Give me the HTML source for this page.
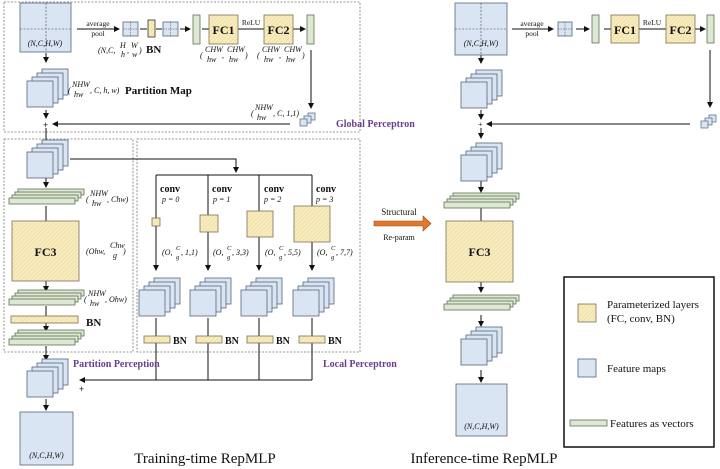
<!DOCTYPE html>
<html><head><meta charset="utf-8"><style>
html,body{margin:0;padding:0;background:#fff}
svg{display:block}
text{font-family:"Liberation Serif",serif;fill:#111}
.i{font-style:italic;font-size:8px}
.b{font-weight:bold}
.p{fill:#6a3d8f;font-weight:bold;font-size:10px}
</style></head><body>
<svg width="720" height="469" viewBox="0 0 720 469" xmlns="http://www.w3.org/2000/svg">
<defs>
<pattern id="h" width="3" height="3" patternUnits="userSpaceOnUse" patternTransform="rotate(45)">
<rect width="3" height="3" fill="#f8ebbd"/><line x1="0" y1="0" x2="0" y2="3" stroke="#e9d79a" stroke-width="1"/>
</pattern>
<marker id="a" markerWidth="6" markerHeight="6" refX="5" refY="3" orient="auto" markerUnits="userSpaceOnUse"><path d="M0,0 L6,3 L0,6 z" fill="#111"/></marker>
<g id="st">
<rect x="15" y="-12" width="26" height="26" fill="#d9e5f3" stroke="#55657a" stroke-width="0.8"/>
<rect x="10" y="-8" width="26" height="26" fill="#d9e5f3" stroke="#55657a" stroke-width="0.8"/>
<rect x="5" y="-4" width="26" height="26" fill="#d9e5f3" stroke="#55657a" stroke-width="0.8"/>
<rect x="0" y="0" width="26" height="26" fill="#d9e5f3" stroke="#55657a" stroke-width="0.8"/>
</g>
<g id="gb">
<rect x="9" y="-9" width="66" height="6" fill="#dde9d3" stroke="#5f7058" stroke-width="0.8"/>
<rect x="6" y="-6" width="66" height="6" fill="#dde9d3" stroke="#5f7058" stroke-width="0.8"/>
<rect x="3" y="-3" width="66" height="6" fill="#dde9d3" stroke="#5f7058" stroke-width="0.8"/>
<rect x="0" y="0" width="66" height="6" fill="#dde9d3" stroke="#5f7058" stroke-width="0.8"/>
</g>
<g id="cb">
<rect x="8" y="-6" width="7" height="7" fill="#d9e5f3" stroke="#55657a" stroke-width="0.7"/>
<rect x="4" y="-3" width="7" height="7" fill="#d9e5f3" stroke="#55657a" stroke-width="0.7"/>
<rect x="0" y="0" width="7" height="7" fill="#d9e5f3" stroke="#55657a" stroke-width="0.7"/>
</g>
</defs>
<g fill="none" stroke="#777" stroke-width="0.8" stroke-dasharray="2,1.5">
<rect x="4" y="2" width="356" height="130"/>
<rect x="4" y="139" width="129" height="213"/>
<rect x="137" y="139" width="223" height="213"/>
</g>
<g stroke="#111" stroke-width="1" fill="none">
<!-- training top -->
<line x1="77" y1="29" x2="119" y2="29" marker-end="url(#a)"/>
<line x1="140" y1="29" x2="147" y2="29"/>
<line x1="156" y1="29" x2="162" y2="29"/>
<line x1="180" y1="29" x2="190" y2="29" marker-end="url(#a)"/>
<line x1="202" y1="29" x2="209" y2="29"/>
<line x1="238" y1="29" x2="264" y2="29"/>
<line x1="293" y1="29" x2="305" y2="29" marker-end="url(#a)"/>
<line x1="311" y1="50" x2="311" y2="108" marker-end="url(#a)"/>
<line x1="290" y1="124" x2="53" y2="124" marker-end="url(#a)"/>
<line x1="46" y1="53" x2="46" y2="62" marker-end="url(#a)"/>
<line x1="46" y1="110" x2="46" y2="118" marker-end="url(#a)"/>
<line x1="46" y1="128" x2="46" y2="142"/>
<!-- partition -->
<line x1="46" y1="178" x2="46" y2="187" marker-end="url(#a)"/>
<line x1="46" y1="206" x2="46" y2="221"/>
<line x1="46" y1="281" x2="46" y2="291" marker-end="url(#a)"/>
<line x1="46" y1="306" x2="46" y2="316"/>
<line x1="46" y1="323" x2="46" y2="331" marker-end="url(#a)"/>
<line x1="46" y1="346" x2="46" y2="360" marker-end="url(#a)"/>
<line x1="46" y1="399" x2="46" y2="410" marker-end="url(#a)"/>
<!-- local -->
<polyline points="70,159 236,159 236,172" marker-end="url(#a)"/>
<line x1="156" y1="175" x2="312" y2="175"/>
<line x1="156" y1="175" x2="156" y2="270" marker-end="url(#a)"/>
<line x1="208" y1="175" x2="208" y2="270" marker-end="url(#a)"/>
<line x1="259" y1="175" x2="259" y2="270" marker-end="url(#a)"/>
<line x1="312" y1="175" x2="312" y2="270" marker-end="url(#a)"/>
<line x1="156" y1="318" x2="156" y2="380"/>
<line x1="208" y1="318" x2="208" y2="380"/>
<line x1="259" y1="318" x2="259" y2="380"/>
<line x1="312" y1="318" x2="312" y2="380"/>
<line x1="312" y1="380" x2="80" y2="380" marker-end="url(#a)"/>
<!-- inference -->
<line x1="512" y1="29" x2="553" y2="29" marker-end="url(#a)"/>
<line x1="576" y1="29" x2="589" y2="29" marker-end="url(#a)"/>
<line x1="604" y1="29" x2="611" y2="29"/>
<line x1="639" y1="29" x2="666" y2="29"/>
<line x1="695" y1="29" x2="705" y2="29" marker-end="url(#a)"/>
<line x1="710" y1="50" x2="710" y2="107" marker-end="url(#a)"/>
<line x1="690" y1="124" x2="487" y2="124" marker-end="url(#a)"/>
<line x1="481" y1="53" x2="481" y2="63" marker-end="url(#a)"/>
<line x1="481" y1="110" x2="481" y2="119" marker-end="url(#a)"/>
<line x1="481" y1="128" x2="481" y2="138" marker-end="url(#a)"/>
<line x1="481" y1="181" x2="481" y2="192" marker-end="url(#a)"/>
<line x1="481" y1="208" x2="481" y2="221"/>
<line x1="481" y1="282" x2="481" y2="292" marker-end="url(#a)"/>
<line x1="481" y1="315" x2="481" y2="326" marker-end="url(#a)"/>
<line x1="481" y1="370" x2="481" y2="382" marker-end="url(#a)"/>
</g>
<!-- training input -->
<rect x="20" y="3" width="51" height="49" fill="#d9e5f3" stroke="#55657a" stroke-width="0.8"/>
<line x1="46" y1="3" x2="46" y2="52" stroke="#445" stroke-width="0.6" stroke-dasharray="2,1.5"/>
<line x1="20" y1="29" x2="71" y2="29" stroke="#445" stroke-width="0.6" stroke-dasharray="2,1.5"/>
<text x="45" y="46" class="i" text-anchor="middle">(N,C,H,W)</text>
<text x="98" y="26" font-size="7.5" text-anchor="middle">average</text>
<text x="98" y="36" font-size="7.5" text-anchor="middle">pool</text>
<rect x="123" y="22" width="15" height="14" fill="#d9e5f3" stroke="#55657a" stroke-width="0.8"/>
<path d="M130.5 22V36M123 29H138" stroke="#445" stroke-width="0.5" stroke-dasharray="1.5,1"/>
<rect x="148" y="20" width="7" height="17" fill="url(#h)" stroke="#333" stroke-width="0.8"/>
<rect x="163" y="22" width="15" height="14" fill="#d9e5f3" stroke="#55657a" stroke-width="0.8"/>
<path d="M170.5 22V36M163 29H178" stroke="#445" stroke-width="0.5" stroke-dasharray="1.5,1"/>
<rect x="193" y="15" width="7" height="29" fill="#dde9d3" stroke="#5f7058" stroke-width="0.8"/>
<rect x="209" y="15" width="29" height="29" fill="url(#h)" stroke="#7a7050" stroke-width="0.8"/>
<text x="223.5" y="34" class="b" font-size="12" text-anchor="middle">FC1</text>
<text x="251" y="25" font-size="7.5" text-anchor="middle">ReLU</text>
<rect x="264" y="15" width="29" height="29" fill="url(#h)" stroke="#7a7050" stroke-width="0.8"/>
<text x="278.5" y="34" class="b" font-size="12" text-anchor="middle">FC2</text>
<rect x="307" y="15" width="7" height="29" fill="#dde9d3" stroke="#5f7058" stroke-width="0.8"/>
<text x="98" y="53" class="i">(N,C,</text><text x="120" y="48" class="i" font-size="6.5">H</text><text x="121" y="57" class="i" font-size="6.5">h</text><text x="127" y="53" class="i">,</text><text x="131" y="48" class="i" font-size="6.5">W</text><text x="132" y="57" class="i" font-size="6.5">w</text><text x="139" y="53" class="i">)</text>
<text x="146" y="53" class="b" font-size="11">BN</text>
<text x="200" y="58" class="i">(</text><text x="205" y="52" class="i" font-size="7">CHW</text><text x="207" y="62" class="i" font-size="7">hw</text><text x="222" y="58" class="i">,</text><text x="227" y="52" class="i" font-size="7">CHW</text><text x="229" y="62" class="i" font-size="7">hw</text><text x="245" y="58" class="i">)</text>
<text x="257" y="58" class="i">(</text><text x="262" y="52" class="i" font-size="7">CHW</text><text x="264" y="62" class="i" font-size="7">hw</text><text x="279" y="58" class="i">,</text><text x="284" y="52" class="i" font-size="7">CHW</text><text x="286" y="62" class="i" font-size="7">hw</text><text x="302" y="58" class="i">)</text>
<use href="#st" x="27" y="81"/>
<text x="68" y="93" class="i">(</text><text x="72" y="87" class="i" font-size="7">NHW</text><text x="74" y="97" class="i" font-size="7">hw</text><text x="90" y="93" class="i" font-size="7">, C, h, w)</text>
<text x="125" y="94" class="b" font-size="11">Partition Map</text>
<text x="251" y="116" class="i">(</text><text x="255" y="110" class="i" font-size="7">NHW</text><text x="257" y="120" class="i" font-size="7">hw</text><text x="273" y="116" class="i" font-size="7">, C, 1,1)</text>
<use href="#cb" x="300" y="119"/>
<text x="43" y="128" font-size="9" class="b">+</text>
<text x="336" y="127" class="p">Global Perceptron</text>
<!-- partition -->
<use href="#st" x="27" y="152"/>
<use href="#gb" x="9" y="198"/>
<text x="86" y="202" class="i">(</text><text x="90" y="196" class="i" font-size="7">NHW</text><text x="92" y="206" class="i" font-size="7">hw</text><text x="107" y="202" class="i" font-size="7">, Chw)</text>
<rect x="12" y="221" width="67" height="60" fill="url(#h)" stroke="#7a7050" stroke-width="0.8"/>
<text x="45.5" y="256" class="b" font-size="12" text-anchor="middle">FC3</text>
<text x="86" y="254" class="i" font-size="7">(Ohw,</text><text x="110" y="248" class="i" font-size="7">Chw</text><text x="113" y="258" class="i" font-size="7">g</text><text x="123" y="254" class="i" font-size="7">)</text>
<use href="#gb" x="9" y="299"/>
<text x="84" y="302" class="i">(</text><text x="88" y="296" class="i" font-size="7">NHW</text><text x="90" y="306" class="i" font-size="7">hw</text><text x="105" y="302" class="i" font-size="7">, Ohw)</text>
<rect x="11" y="316" width="67" height="7" fill="url(#h)" stroke="#7a7050" stroke-width="0.8"/>
<text x="86" y="326" class="b" font-size="11">BN</text>
<use href="#gb" x="9" y="339"/>
<!-- local -->
<g font-size="10">
<text x="160" y="192" class="b">conv</text><text x="212" y="192" class="b">conv</text><text x="264" y="192" class="b">conv</text><text x="316" y="192" class="b">conv</text>
</g>
<text x="162" y="202" class="i">p = 0</text><text x="213" y="202" class="i">p = 1</text><text x="264" y="202" class="i">p = 2</text><text x="316" y="202" class="i">p = 3</text>
<rect x="152" y="218" width="8" height="8" fill="url(#h)" stroke="#7a7050" stroke-width="0.8"/>
<rect x="200" y="215" width="18" height="17" fill="url(#h)" stroke="#7a7050" stroke-width="0.8"/>
<rect x="247" y="211" width="26" height="26" fill="url(#h)" stroke="#7a7050" stroke-width="0.8"/>
<rect x="294" y="206" width="36" height="36" fill="url(#h)" stroke="#7a7050" stroke-width="0.8"/>
<g class="i" font-size="7">
<text x="162" y="255">(O,</text><text x="176" y="250" font-size="6.5">C</text><text x="176" y="259" font-size="6.5">g</text><text x="181" y="255">, 1,1)</text>
<text x="213" y="255">(O,</text><text x="227" y="250" font-size="6.5">C</text><text x="227" y="259" font-size="6.5">g</text><text x="232" y="255">, 3,3)</text>
<text x="265" y="255">(O,</text><text x="279" y="250" font-size="6.5">C</text><text x="279" y="259" font-size="6.5">g</text><text x="284" y="255">, 5,5)</text>
<text x="317" y="255">(O,</text><text x="331" y="250" font-size="6.5">C</text><text x="331" y="259" font-size="6.5">g</text><text x="336" y="255">, 7,7)</text>
</g>
<use href="#st" x="139" y="290"/><use href="#st" x="190" y="290"/><use href="#st" x="241" y="290"/><use href="#st" x="293" y="290"/>
<rect x="144" y="336" width="26" height="7" fill="url(#h)" stroke="#7a7050" stroke-width="0.8"/>
<rect x="196" y="336" width="26" height="7" fill="url(#h)" stroke="#7a7050" stroke-width="0.8"/>
<rect x="247" y="336" width="26" height="7" fill="url(#h)" stroke="#7a7050" stroke-width="0.8"/>
<rect x="299" y="336" width="26" height="7" fill="url(#h)" stroke="#7a7050" stroke-width="0.8"/>
<g class="b" font-size="10"><text x="173" y="344">BN</text><text x="225" y="344">BN</text><text x="276" y="344">BN</text><text x="328" y="344">BN</text></g>
<text x="73" y="367" class="p">Partition Perception</text>
<text x="323" y="367" class="p">Local Perceptron</text>
<text x="79" y="392" font-size="9" class="b">+</text>
<use href="#st" x="27" y="371"/>
<rect x="20" y="412" width="53" height="53" fill="#d9e5f3" stroke="#55657a" stroke-width="0.8"/>
<text x="46.5" y="458" class="i" text-anchor="middle" font-size="7">(N,C,H,W)</text>
<text x="205" y="463" font-size="15" text-anchor="middle">Training-time RepMLP</text>
<!-- structural arrow -->
<text x="399" y="215" font-size="9" text-anchor="middle">Structural</text>
<path d="M374 221H423V216L431 223.5L423 231V226H374Z" fill="#e0782f" stroke="#a04e10" stroke-width="0.6"/>
<text x="399" y="240" font-size="8" text-anchor="middle">Re-param</text>
<!-- inference -->
<rect x="455" y="3" width="52" height="52" fill="#d9e5f3" stroke="#55657a" stroke-width="0.8"/>
<line x1="481" y1="3" x2="481" y2="55" stroke="#445" stroke-width="0.6" stroke-dasharray="2,1.5"/>
<line x1="455" y1="29" x2="507" y2="29" stroke="#445" stroke-width="0.6" stroke-dasharray="2,1.5"/>
<text x="481" y="46" class="i" text-anchor="middle">(N,C,H,W)</text>
<text x="532" y="26" font-size="7.5" text-anchor="middle">average</text>
<text x="532" y="36" font-size="7.5" text-anchor="middle">pool</text>
<rect x="558" y="22" width="14" height="14" fill="#d9e5f3" stroke="#55657a" stroke-width="0.8"/>
<path d="M565 22V36M558 29H572" stroke="#445" stroke-width="0.5" stroke-dasharray="1.5,1"/>
<rect x="592" y="15" width="7" height="28" fill="#dde9d3" stroke="#5f7058" stroke-width="0.8"/>
<rect x="611" y="15" width="28" height="28" fill="url(#h)" stroke="#7a7050" stroke-width="0.8"/>
<text x="625" y="34" class="b" font-size="12" text-anchor="middle">FC1</text>
<text x="652" y="25" font-size="7.5" text-anchor="middle">ReLU</text>
<rect x="666" y="15" width="29" height="28" fill="url(#h)" stroke="#7a7050" stroke-width="0.8"/>
<text x="680.5" y="34" class="b" font-size="12" text-anchor="middle">FC2</text>
<rect x="707" y="15" width="7" height="28" fill="#dde9d3" stroke="#5f7058" stroke-width="0.8"/>
<use href="#cb" x="701" y="121"/>
<text x="478" y="127" font-size="8">+</text>
<use href="#st" x="461" y="82"/>
<use href="#st" x="461" y="155"/>
<use href="#gb" x="444" y="202"/>
<rect x="446" y="221" width="67" height="61" fill="url(#h)" stroke="#7a7050" stroke-width="0.8"/>
<text x="479.5" y="256" class="b" font-size="12" text-anchor="middle">FC3</text>
<use href="#gb" x="444" y="304"/>
<use href="#st" x="461" y="339"/>
<rect x="456" y="384" width="51" height="52" fill="#d9e5f3" stroke="#55657a" stroke-width="0.8"/>
<text x="481.5" y="429" class="i" text-anchor="middle" font-size="7">(N,C,H,W)</text>
<text x="484" y="463" font-size="15" text-anchor="middle">Inference-time RepMLP</text>
<!-- legend -->
<rect x="564" y="277" width="150" height="170" fill="none" stroke="#111" stroke-width="1.5"/>
<rect x="578" y="304" width="18" height="18" fill="url(#h)" stroke="#7a7050" stroke-width="0.8"/>
<text x="607" y="308" font-size="11">Parameterized layers</text>
<text x="607" y="322" font-size="11">(FC, conv, BN)</text>
<rect x="578" y="359" width="18" height="18" fill="#d9e5f3" stroke="#55657a" stroke-width="0.8"/>
<text x="607" y="372" font-size="11">Feature maps</text>
<rect x="570" y="420" width="37" height="6" fill="#dde9d3" stroke="#5f7058" stroke-width="0.8"/>
<text x="610" y="427" font-size="11">Features as vectors</text>
</svg>
</body></html>
